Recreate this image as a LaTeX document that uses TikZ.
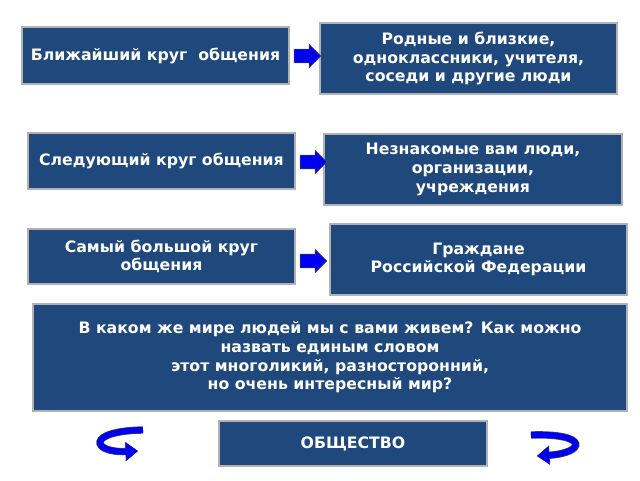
\documentclass[tikz,border=0pt]{standalone}
\usepackage{fontspec}
\setmainfont{DejaVu Sans}
\usetikzlibrary{shapes.arrows,arrows.meta}
\definecolor{boxblue}{RGB}{31,73,125}
\definecolor{arrblue}{RGB}{0,0,240}
\tikzset{
  infobox/.style={draw=gray!60,line width=1pt,fill=boxblue,text=white,font=\fontsize{11.8}{14}\selectfont\bfseries,align=center,inner sep=0pt},
  blockarrow/.style={single arrow,draw=black!70,fill=arrblue,minimum height=20pt,single arrow head extend=3.5pt,inner sep=0pt,text height=10pt,text width=0pt},
  turnarrow/.style={draw=arrblue,line width=4.5pt,-{Triangle[length=9pt,width=13pt]},preaction={draw=black!70,line width=5.5pt,-{Triangle[length=9.5pt,width=14pt]}}}
}
\begin{document}
\begin{tikzpicture}[x=0.75pt,y=0.75pt,yscale=-1,xscale=1]
\useasboundingbox (0,0) rectangle (640,480);
%boxes
\node[infobox,minimum width=267*0.75pt,minimum height=57*0.75pt] (near) at (155.5,55.5) {Ближайший круг\ \ общения};
\node[infobox,minimum width=297*0.75pt,minimum height=71*0.75pt] (nearR) at (468.5,58.5) {Родные и близкие,\\одноклассники, учителя,\\соседи и другие люди};
\node[infobox,minimum width=267*0.75pt,minimum height=56*0.75pt] (next) at (161.5,161) {Следующий круг общения};
\node[infobox,minimum width=298*0.75pt,minimum height=71*0.75pt] (nextR) at (473,169.5) {Незнакомые вам люди,\\организации,\\учреждения};
\node[infobox,minimum width=267*0.75pt,minimum height=55*0.75pt] (big) at (161.5,256.5) {Самый большой круг\\общения};
\node[infobox,minimum width=297*0.75pt,minimum height=71*0.75pt] (bigR) at (478.5,259.5) {Граждане\\Российской Федерации};
\node[infobox,minimum width=594*0.75pt,minimum height=107*0.75pt] (question) at (330,357.5) {В каком же мире людей мы с вами живем? Как можно\\назвать единым словом\\этот многоликий, разносторонний,\\но очень интересный мир?};
\node[infobox,minimum width=268*0.75pt,minimum height=45*0.75pt] (society) at (353,443.5) {ОБЩЕСТВО};
%arrows between
\node[blockarrow] (a1) at (304,56) {};
\node[blockarrow] (a2) at (310,162) {};
\node[blockarrow] (a3) at (310,261) {};
%turning arrows
\draw[turnarrow] (143,430) .. controls (85,431) and (92,453) .. (138,451);
\draw[turnarrow] (531,435) .. controls (590,433) and (585,453) .. (537,456);
\end{tikzpicture}
\end{document}
